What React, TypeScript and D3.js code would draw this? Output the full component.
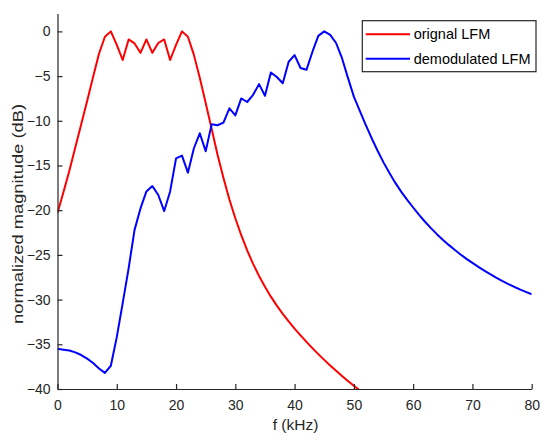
import React, { useEffect, useRef } from "react";
import * as d3 from "d3";

// frequency samples in kHz
const freqRed: number[] = d3.range(0, 52);
const freqBlue: number[] = d3.range(0, 81);

const orignal: number[] = [
  -20.3, -18.0, -15.6, -13.0, -10.4, -7.8, -5.1, -2.5, -0.6, 0,
  -1.5, -3.2, -0.9, -1.35, -2.4, -0.9, -2.4, -1.3, -0.9, -3.2,
  -1.5, 0, -0.6, -2.6, -5.2, -8.0, -10.9, -13.8, -16.4, -18.8,
  -20.9, -22.8, -24.5, -26.0, -27.35, -28.57, -29.67, -30.67, -31.59, -32.44,
  -33.24, -34.0, -34.73, -35.43, -36.1, -36.74, -37.36, -37.96, -38.54, -39.1,
  -39.64, -40.16,
];

const demodulated: number[] = [
  -35.5, -35.6, -35.7, -35.9, -36.2, -36.6, -37.1, -37.7, -38.2, -37.4,
  -34.2, -30.4, -26.5, -22.2, -19.8, -17.9, -17.3, -18.3, -20.1, -17.9,
  -14.2, -13.9, -15.8, -13.1, -11.4, -13.4, -10.4, -10.5, -10.2, -8.6,
  -9.4, -7.5, -7.9, -7.1, -5.9, -7.2, -4.6, -5.1, -5.8, -3.4,
  -2.65, -4.1, -4.3, -2.3, -0.5, 0, -0.4, -1.3, -3.0, -5.2,
  -7.3, -8.9, -10.45, -11.95, -13.35, -14.65, -15.85, -16.95, -17.95, -18.85,
  -19.7, -20.52, -21.29, -22.01, -22.68, -23.3, -23.88, -24.43, -24.95, -25.44,
  -25.9, -26.34, -26.76, -27.16, -27.54, -27.9, -28.24, -28.56, -28.86, -29.14,
  -29.41,
];

const xTicks = [0, 10, 20, 30, 40, 50, 60, 70, 80];
const yTicks = [-40, -35, -30, -25, -20, -15, -10, -5, 0];
const seriesNames = ["orignal LFM", "demodulated LFM"];
const seriesColors = ["#ff0000", "#0000ff"];

const App: React.FC = () => {
  const svgRef = useRef<SVGSVGElement | null>(null);

  useEffect(() => {
    if (!svgRef.current) return;
    const width = 550;
    const height = 442;
    const axisColor = "#262626";
    const font = "'Liberation Sans', Arial, Helvetica, sans-serif";

    const root = d3.select(svgRef.current);
    root.selectAll("*").remove();
    root.attr("width", width).attr("height", height);

    const x = d3.scaleLinear().domain([0, 80]).range([57.5, 531.7]);
    const y = d3.scaleLinear().domain([-40, 2]).range([389, 13.5]);

    root.append("rect").attr("width", width).attr("height", height).attr("fill", "#fff");

    // clip lines to the axes box
    root
      .append("defs")
      .append("clipPath")
      .attr("id", "plot-clip")
      .append("rect")
      .attr("x", x(0))
      .attr("y", y(2))
      .attr("width", x(80) - x(0))
      .attr("height", y(-40) - y(2));

    const line = d3
      .line<[number, number]>()
      .x((d) => x(d[0]))
      .y((d) => y(d[1]));

    const plot = root.append("g").attr("clip-path", "url(#plot-clip)");
    const series = [
      freqRed.map((f, i) => [f, orignal[i]] as [number, number]),
      freqBlue.map((f, i) => [f, demodulated[i]] as [number, number]),
    ];
    series.forEach((pts, i) => {
      plot
        .append("path")
        .attr("d", line(pts))
        .attr("fill", "none")
        .attr("stroke", seriesColors[i])
        .attr("stroke-width", 2)
        .attr("stroke-linejoin", "round");
    });

    // X-axis
    const gx = root
      .append("g")
      .attr("transform", `translate(0, ${y(-40)})`)
      .call(d3.axisBottom(x).tickValues(xTicks).tickSizeInner(-5).tickSizeOuter(0).tickPadding(11));

    // Y-axis
    const gy = root
      .append("g")
      .attr("transform", `translate(${x(0)}, 0)`)
      .call(d3.axisLeft(y).tickValues(yTicks).tickSizeInner(-5).tickSizeOuter(0).tickPadding(7));

    [gx, gy].forEach((g) => {
      g.select(".domain").attr("stroke", axisColor).attr("stroke-width", 1.2);
      g.selectAll(".tick line").attr("stroke", axisColor).attr("stroke-width", 1.2);
      g.selectAll(".tick text")
        .attr("fill", axisColor)
        .style("font-family", font)
        .style("font-size", "14px");
    });

    // axis labels
    root
      .append("text")
      .attr("x", 295.5)
      .attr("y", 430)
      .attr("text-anchor", "middle")
      .attr("fill", axisColor)
      .style("font-family", font)
      .style("font-size", "15.5px")
      .text("f (kHz)");

    root
      .append("text")
      .attr("transform", `translate(23, 214) rotate(-90)`)
      .attr("text-anchor", "middle")
      .attr("fill", axisColor)
      .style("font-family", font)
      .style("font-size", "15.5px")
      .attr("textLength", 220)
      .attr("lengthAdjust", "spacingAndGlyphs")
      .text("normalized magnitude (dB)");

    // legend
    const legend = root.append("g");
    legend
      .append("rect")
      .attr("x", 362.3)
      .attr("y", 20.7)
      .attr("width", 173.7)
      .attr("height", 51)
      .attr("fill", "#fff")
      .attr("stroke", axisColor)
      .attr("stroke-width", 1.2);

    seriesNames.forEach((name, i) => {
      const ly = 34.3 + i * 24.4;
      legend
        .append("line")
        .attr("x1", 365.7)
        .attr("x2", 410)
        .attr("y1", ly)
        .attr("y2", ly)
        .attr("stroke", seriesColors[i])
        .attr("stroke-width", 2);
      legend
        .append("text")
        .attr("x", 413.7)
        .attr("y", ly)
        .attr("dy", "0.35em")
        .attr("fill", "#000")
        .style("font-family", font)
        .style("font-size", "14.5px")
        .text(name);
    });
  }, []);

  return (
    <svg
      ref={svgRef}
      style={{ position: "absolute", left: 0, top: 0, display: "block" }}
    ></svg>
  );
};

export default App;
